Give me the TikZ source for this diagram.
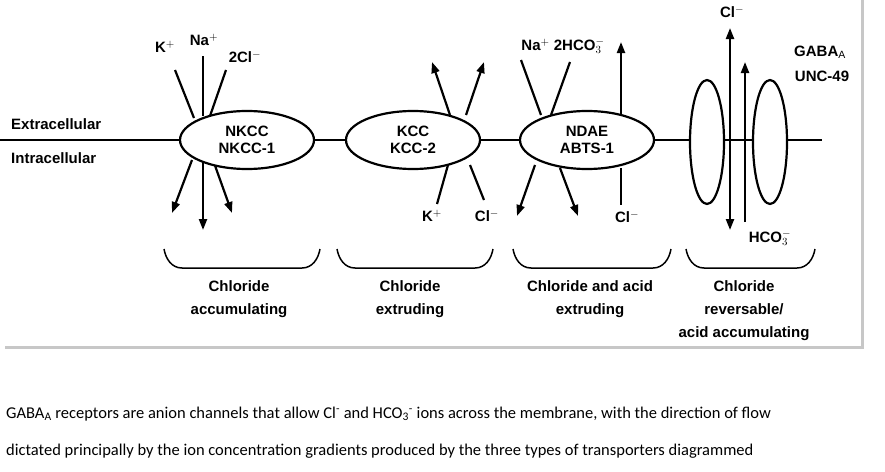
\documentclass[tikz,border=0pt]{standalone}
\usepackage{fontspec}
\setmainfont{Liberation Sans}
\newfontfamily\capfont{Carlito}
\usetikzlibrary{arrows.meta,shapes.geometric}
\begin{document}
\begin{tikzpicture}[x=1pt,y=-1pt,
  lw/.style={line width=2.2pt},
  arr/.style={lw,-{Triangle[length=11pt,width=8pt]}},
  tr/.style={draw,lw,ellipse,minimum width=134pt,minimum height=58pt,inner sep=0pt,fill=white,font=\bfseries\fontsize{15}{17}\selectfont,align=center},
  ch/.style={draw,lw,ellipse,minimum width=34pt,minimum height=124pt,inner sep=0pt,fill=white},
  lab/.style={font=\bfseries\fontsize{15}{17}\selectfont,inner sep=1pt},
  grp/.style={font=\bfseries\fontsize{15}{23}\selectfont,align=center,anchor=north},
  brc/.style={line width=1.5pt},
  boxline/.style={line width=3pt,draw=black!22}]
\useasboundingbox (0,0) rectangle (885,471);
\draw[boxline] (5,347) -- (862,347) -- (862,0);
\coordinate (m0) at (0,140); \coordinate (m1) at (822,140);
\draw[lw] (m0) -- (m1);
\node[lab,anchor=west] (ex) at (10,124) {Extracellular};
\node[lab,anchor=west] (in) at (10,158) {Intracellular};
% NKCC
\coordinate (a1) at (175,70); \coordinate (a2) at (203,56); \coordinate (a3) at (226,70);
\coordinate (b1) at (194,118); \coordinate (b2) at (203,116); \coordinate (b3) at (210,116);
\draw[lw] (a1)--(b1); \draw[lw] (a2)--(b2); \draw[lw] (a3)--(b3);
\coordinate (c1) at (192,160); \coordinate (c2) at (203,162); \coordinate (c3) at (213,160);
\coordinate (d1) at (172,213); \coordinate (d2) at (203,230); \coordinate (d3) at (232,213);
\draw[arr] (c1)--(d1); \draw[arr] (c2)--(d2); \draw[arr] (c3)--(d3);
\node[tr] (nkcc) at (247,140) {NKCC\\NKCC-1};
\node[lab] (k1) at (165,47) {K$^{+}$};
\node[lab] (na1) at (204,40) {Na$^{+}$};
\node[lab] (cl1) at (245,57) {2Cl$^{-}$};
% KCC
\coordinate (e1) at (450,115); \coordinate (e2) at (466,115);
\coordinate (f1) at (432,62); \coordinate (f2) at (484,62);
\draw[arr] (e1)--(f1); \draw[arr] (e2)--(f2);
\coordinate (g1) at (448,165); \coordinate (g2) at (470,165);
\coordinate (h1) at (437,204); \coordinate (h2) at (484,200);
\draw[lw] (g1)--(h1); \draw[lw] (g2)--(h2);
\node[tr] (kcc) at (413,140) {KCC\\KCC-2};
\node[lab] (k2) at (432,216) {K$^{+}$};
\node[lab] (cl2) at (487,216) {Cl$^{-}$};
% NDAE
\coordinate (p1) at (521,60); \coordinate (p2) at (570,62);
\coordinate (q1) at (541,115); \coordinate (q2) at (551,115);
\draw[lw] (p1)--(q1); \draw[lw] (p2)--(q2);
\coordinate (r0) at (621,115); \coordinate (r1) at (621,42);
\draw[arr] (r0)--(r1);
\coordinate (s1) at (535,165); \coordinate (s2) at (560,168);
\coordinate (t1) at (517,216); \coordinate (t2) at (578,216);
\draw[arr] (s1)--(t1); \draw[arr] (s2)--(t2);
\coordinate (u0) at (621,168); \coordinate (u1) at (621,205);
\draw[lw] (u0)--(u1);
\node[tr] (ndae) at (587,140) {NDAE\\ABTS-1};
\node[lab] (nahco) at (563,46) {Na$^{+}$ 2HCO$_3^{-}$};
\node[lab] (cl3) at (627,217) {Cl$^{-}$};
% GABA
\node[ch] (g1e) at (707,142) {};
\node[ch] (g2e) at (770,142) {};
\coordinate (v0) at (730,28); \coordinate (v1) at (730,230);
\draw[lw,{Triangle[length=11pt,width=8pt]}-{Triangle[length=11pt,width=8pt]}] (v0)--(v1);
\coordinate (w0) at (745,222); \coordinate (w1) at (745,62);
\draw[arr] (w0)--(w1);
\node[lab] (cl4) at (732,12) {Cl$^{-}$};
\node[lab] (hco) at (770,238) {HCO$_3^{-}$};
\node[lab] (gaba) at (820,52) {GABA$_\mathrm{A}$};
\node[lab] (unc) at (822,76) {UNC-49};
% braces
\foreach \xa/\xb in {164/320,337/493,513/671,686/815}{
  \draw[brc] (\xa,249) to[out=-80,in=180] (\xa+18,268) -- (\xb-18,268) to[out=0,in=-100] (\xb,249);
}
\node[grp] (c1t) at (239,277) {Chloride\\accumulating};
\node[grp] (c2t) at (410,277) {Chloride\\extruding};
\node[grp] (c3t) at (590,277) {Chloride and acid\\extruding};
\node[grp] (c4t) at (744,277) {Chloride\\reversable/\\acid accumulating};
% caption
\node[anchor=west,inner sep=0pt,font=\capfont\fontsize{16.5}{18}\selectfont] (l1) at (6,414) {GABA\textsubscript{A} receptors are anion channels that allow Cl\textsuperscript{-} and HCO\textsubscript{3}\textsuperscript{-} ions across the membrane, with the direction of flow};
\node[anchor=west,inner sep=0pt,font=\capfont\fontsize{16.5}{18}\selectfont] (l2) at (6,451) {dictated principally by the ion concentration gradients produced by the three types of transporters diagrammed};
\end{tikzpicture}
\end{document}
